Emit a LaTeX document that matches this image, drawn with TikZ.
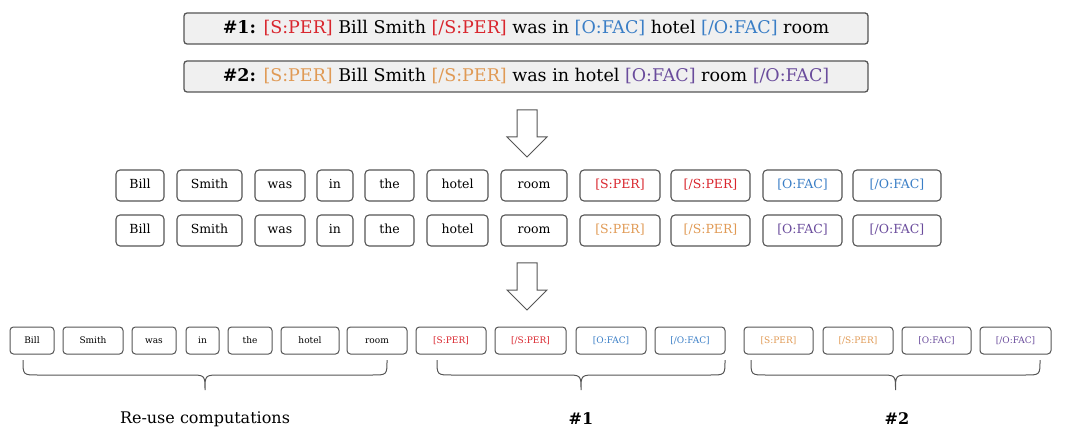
\documentclass[tikz,border=0pt]{standalone}
\usepackage{fontspec}
\setmainfont{DejaVu Serif}
\usetikzlibrary{calc}
\definecolor{cr}{HTML}{D9262E}
\definecolor{cb}{HTML}{3A7EC6}
\definecolor{co}{HTML}{E09A55}
\definecolor{cp}{HTML}{6A4C9C}
\definecolor{ln}{HTML}{555555}
\begin{document}
\begin{tikzpicture}[x=1pt,y=-1pt,
  sent/.style={draw=ln,line width=1.3pt,fill=black!6,rounded corners=3pt,inner sep=0pt},
  tok/.style={draw=ln,line width=1.1pt,rounded corners=4pt,inner sep=0pt,text height=0.75em,text depth=0.22em,font=\fontsize{12.5}{14}\selectfont},
  stok/.style={draw=ln,line width=1pt,rounded corners=3.5pt,inner sep=0pt,text height=0.75em,text depth=0.22em,font=\fontsize{9}{10}\selectfont},
  harrow/.style={draw=ln,line width=1pt,fill=white},
  brace/.style={draw=ln,line width=1pt}]
\useasboundingbox (0,0) rectangle (1065,438);
% top sentences
\node[sent,minimum width=684pt,minimum height=31pt] (s1) at (526,28.5) {\fontsize{17.5}{19}\selectfont\textbf{\#1:} \textcolor{cr}{[S:PER]} Bill Smith \textcolor{cr}{[/S:PER]} was in \textcolor{cb}{[O:FAC]} hotel \textcolor{cb}{[/O:FAC]} room};
\node[sent,minimum width=684pt,minimum height=31pt] (s2) at (526,76.5) {\fontsize{17.5}{19}\selectfont\textbf{\#2:} \textcolor{co}{[S:PER]} Bill Smith \textcolor{co}{[/S:PER]} was in hotel \textcolor{cp}{[O:FAC]} room \textcolor{cp}{[/O:FAC]}};
% hollow arrows
\coordinate (a1) at (527,110);
\draw[harrow] ($(a1)+(-10,0)$) -- ($(a1)+(10,0)$) -- ($(a1)+(10,27)$) -- ($(a1)+(20,27)$) -- ($(a1)+(0,47)$) -- ($(a1)+(-20,27)$) -- ($(a1)+(-10,27)$) -- cycle;
\coordinate (a2) at (527,263);
\draw[harrow] ($(a2)+(-10,0)$) -- ($(a2)+(10,0)$) -- ($(a2)+(10,27)$) -- ($(a2)+(20,27)$) -- ($(a2)+(0,47)$) -- ($(a2)+(-20,27)$) -- ($(a2)+(-10,27)$) -- cycle;
% middle rows
\foreach \y/\r in {185.5/1,230.5/2}{
 \foreach \a/\b/\t/\n in {116/164/Bill/a,177/242/Smith/b,255/305/was/c,317/353/in/d,365/414/the/e,427/488/hotel/f,501/567/room/g}{
  \node[tok,minimum width={(\b-\a)*1pt},minimum height=31pt] (r\r\n) at ({(\a+\b)/2},\y) {\t};
 }
}
\node[tok,minimum width=80pt,minimum height=31pt,text=cr] (r1h) at (620,185.5) {[S:PER]};
\node[tok,minimum width=79pt,minimum height=31pt,text=cr] (r1i) at (710.5,185.5) {[/S:PER]};
\node[tok,minimum width=79pt,minimum height=31pt,text=cb] (r1j) at (802.5,185.5) {[O:FAC]};
\node[tok,minimum width=88pt,minimum height=31pt,text=cb] (r1k) at (897,185.5) {[/O:FAC]};
\node[tok,minimum width=80pt,minimum height=31pt,text=co] (r2h) at (620,230.5) {[S:PER]};
\node[tok,minimum width=79pt,minimum height=31pt,text=co] (r2i) at (710.5,230.5) {[/S:PER]};
\node[tok,minimum width=79pt,minimum height=31pt,text=cp] (r2j) at (802.5,230.5) {[O:FAC]};
\node[tok,minimum width=88pt,minimum height=31pt,text=cp] (r2k) at (897,230.5) {[/O:FAC]};
% bottom row
\foreach \a/\b/\t/\c/\n in {10/54/Bill/black/a,63/123/Smith/black/b,132/176/was/black/c,186/219/in/black/d,228/272/the/black/e,281/339/hotel/black/f,347/407/room/black/g,
 416/486/{[S:PER]}/cr/h,495/566/{[/S:PER]}/cr/i,576/646/{[O:FAC]}/cb/j,655/725/{[/O:FAC]}/cb/k,
 744/813/{[S:PER]}/co/l,823/893/{[/S:PER]}/co/m,902/971/{[O:FAC]}/cp/n,980/1051/{[/O:FAC]}/cp/o}{
  \node[stok,minimum width={(\b-\a)*1pt},minimum height=27pt,text=\c] (b\n) at ({(\a+\b)/2},340.5) {\t};
}
% braces
\foreach \x/\z in {23/387,437/725,751/1040}{
 \pgfmathsetmacro\m{(\x+\z)/2}
 \draw[brace] (\x,360) .. controls (\x,375) .. (\x+15,375) -- (\m-16,375) .. controls (\m,375) .. (\m,390) .. controls (\m,375) .. (\m+16,375) -- (\z-15,375) .. controls (\z,375) .. (\z,360);
}
\node[font=\fontsize{16}{18}\selectfont] (l1) at (205,419) {Re-use computations};
\node[font=\fontsize{16}{18}\selectfont\bfseries] (l2) at (581,419) {\#1};
\node[font=\fontsize{16}{18}\selectfont\bfseries] (l3) at (897,419) {\#2};
\end{tikzpicture}
\end{document}
